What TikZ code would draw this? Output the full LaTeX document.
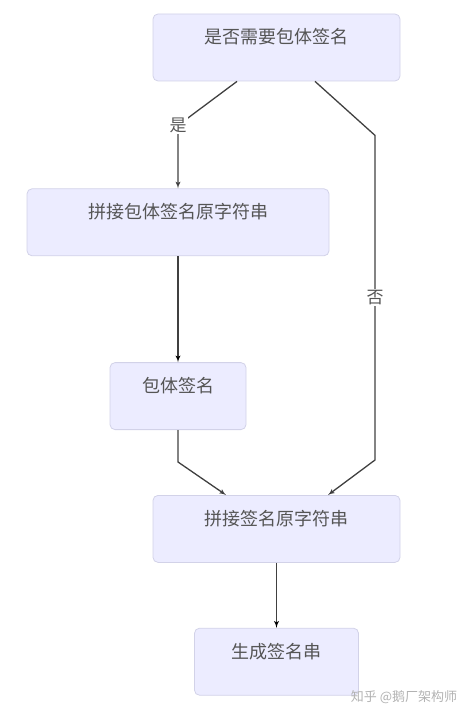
\documentclass[tikz,border=0pt]{standalone}
\usepackage{fontspec}
\setmainfont{Noto Sans CJK SC}
\usetikzlibrary{arrows,positioning}

\definecolor{boxfill}{HTML}{ECECFF}
\definecolor{boxline}{HTML}{D2D2E8}
\definecolor{txtgray}{HTML}{555555}

\begin{document}
\begin{tikzpicture}[>=latex', x=1pt, y=1pt]
        \tikzset{block/.style={draw=boxline, fill=boxfill, rectangle, rounded corners=5pt, line width=0.8pt, text=txtgray,
            font=\fontsize{18pt}{20pt}\selectfont, inner xsep=0pt, inner ysep=0pt, text height=30pt, text depth=37pt},
        link/.style={draw=black!75, line width=1.3pt},
        tag/.style={fill=white, text=txtgray, font=\fontsize{17pt}{18pt}\selectfont, inner sep=1pt}
        }
        \useasboundingbox (0,0) rectangle (474,-719);
        \node[block, minimum width=247pt] (ask) at (276.5,-47.5) {是否需要包体签名};
        \node[block, minimum width=302pt, below=107pt of ask, xshift=-98.5pt] (pack) {拼接包体签名原字符串};
        \node[block, minimum width=136pt, below=106pt of pack] (sign) {包体签名};
        \node[block, minimum width=247pt, below=65pt of sign, xshift=98.5pt] (join) {拼接签名原字符串};
        \node[block, minimum width=164pt, below=65pt of join] (make) {生成签名串};
        \node[text=black!30, font=\fontsize{13pt}{15pt}\selectfont] (mark) at (404,-697) {知乎 @鹅厂架构师};
        \coordinate (yes) at ([yshift=63pt]pack.north);
        \coordinate (notop) at ([xshift=98.5pt,yshift=-54pt]ask.south);
        \coordinate (nobot) at ([xshift=98.5pt,yshift=35pt]join.north);
        \coordinate (signbend) at ([yshift=-32pt]sign.south);

%% paths
        \path[link,->] ([xshift=-39.5pt]ask.south) -- (yes) node[tag] {是} -- (pack.north);
        \path[link,->] ([xshift=38.5pt]ask.south) -- (notop) -- node[tag] {否} (nobot) -- ([xshift=51.5pt]join.north);
        \path[link,->] (pack) edge (sign)
                    (join) edge (make);
        \path[link,->] (sign) -- (signbend) -- ([xshift=-50.5pt]join.north);
\end{tikzpicture}
\end{document}
